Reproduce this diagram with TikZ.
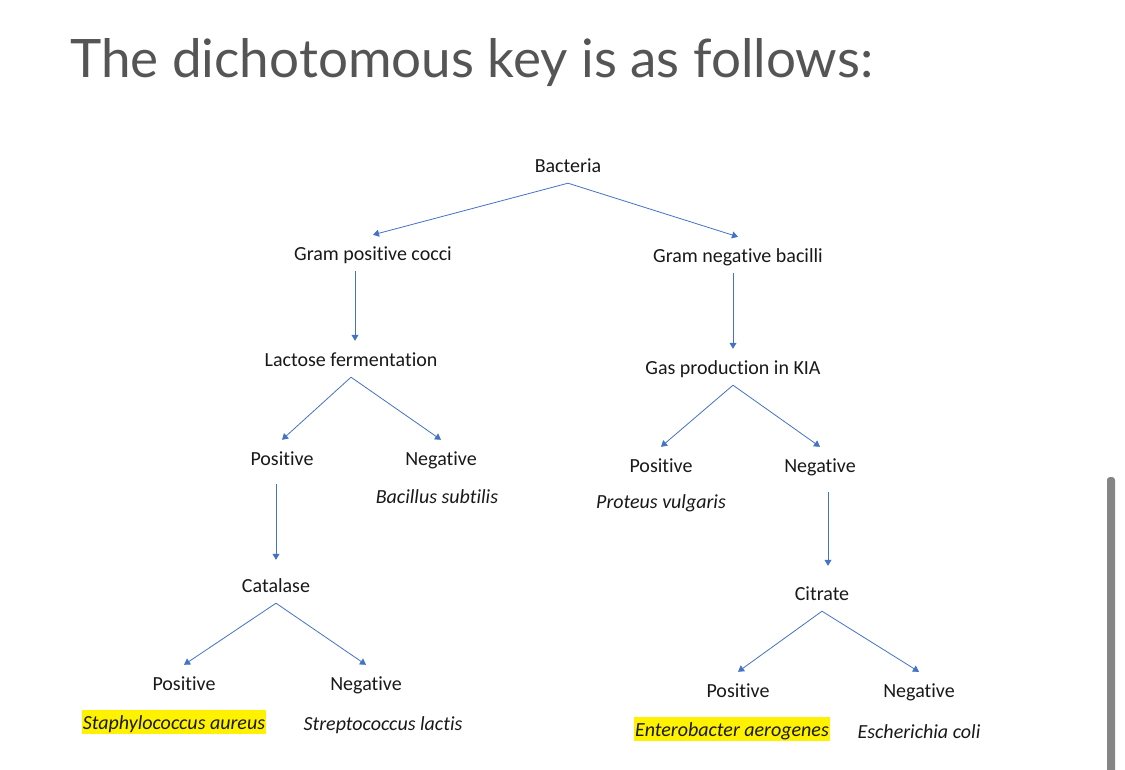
\documentclass[tikz,border=0pt]{standalone}
\usepackage{fontspec}
\setmainfont[Ligatures=NoCommon]{Carlito}
\newfontfamily\titlefont{Lato}
\usetikzlibrary{arrows.meta}
\definecolor{keyblue}{HTML}{4472C4}
\definecolor{titlegray}{HTML}{555555}
\definecolor{bargray}{HTML}{858585}
\begin{document}
\begin{tikzpicture}[x=1pt,y=-1pt,
	txt/.style={font=\fontsize{20}{24}\selectfont, text=black!90, text height=16pt, text depth=1pt, inner sep=0pt, minimum height=36pt},
	spc/.style={font=\fontsize{20}{24}\selectfont\itshape, text=black!90, text height=17pt, text depth=2pt, inner xsep=1pt, inner ysep=2.5pt},
	hl/.style={spc, fill=yellow},
	arr/.style={keyblue, line width=0.8pt, -{Triangle[width=7pt,length=6pt]}}]
	\useasboundingbox (0,0) rectangle (1125,770);
	\clip (0,0) rectangle (1125,770);
	\fill[white] (0,0) rectangle (1125,770);
	\node[titlegray, anchor=base west, inner sep=0pt, font=\titlefont\fontsize{53}{60}\selectfont] (title) at (70,78) {The dichotomous key is as follows:};
	\node[txt] (bact) at (568,165) {Bacteria};
	\node[txt] (gpc) at (373,253) {Gram positive cocci};
	\node[txt] (gnb) at (738,255) {Gram negative bacilli};
	\node[txt] (lac) at (351,359) {Lactose fermentation};
	\node[txt] (gas) at (733,367) {Gas production in KIA};
	\node[txt] (lacpos) at (282,458) {Positive};
	\node[txt] (lacneg) at (441,458) {Negative};
	\node[spc] (bsub) at (437,496) {Bacillus subtilis};
	\node[txt] (gaspos) at (661,465) {Positive};
	\node[txt] (gasneg) at (820,465) {Negative};
	\node[spc] (pvul) at (661,501) {Proteus vulgaris};
	\node[txt] (cat) at (276,585) {Catalase};
	\node[txt] (cit) at (822,593) {Citrate};
	\node[txt] (catpos) at (184,683) {Positive};
	\node[txt] (catneg) at (366,683) {Negative};
	\node[hl] (saur) at (174,722) {Staphylococcus aureus};
	\node[spc] (slac) at (383,723) {Streptococcus lactis};
	\node[txt] (citpos) at (738,690) {Positive};
	\node[txt] (citneg) at (919,690) {Negative};
	\node[hl] (eaer) at (732,729) {Enterobacter aerogenes};
	\node[spc] (ecol) at (919,731) {Escherichia coli};
	\draw[arr] (bact.south) -- (gpc.north);
	\draw[arr] (bact.south) -- (gnb.north);
	\draw[arr] ([xshift=4pt]lac.north |- gpc.south) -- ([xshift=4pt]lac.north);
	\draw[arr] (gnb.south -| gas.north) -- (gas.north);
	\draw[arr] (lac.south) -- (lacpos.north);
	\draw[arr] (lac.south) -- (lacneg.north);
	\draw[arr] (gas.south) -- (gaspos.north);
	\draw[arr] (gas.south) -- (gasneg.north);
	\draw[arr, shorten <=8pt, shorten >=7pt] (lacpos.south -| cat.north) -- (cat.north);
	\draw[arr, shorten <=9pt, shorten >=9pt] ([xshift=6pt]cit.north |- gasneg.south) -- ([xshift=6pt]cit.north);
	\draw[arr] (cat.south) -- (catpos.north);
	\draw[arr] (cat.south) -- (catneg.north);
	\draw[arr] (cit.south) -- (citpos.north);
	\draw[arr] (cit.south) -- (citneg.north);
	\fill[bargray, rounded corners=3pt] (1107,477) rectangle (1115,800);
\end{tikzpicture}
\end{document}
